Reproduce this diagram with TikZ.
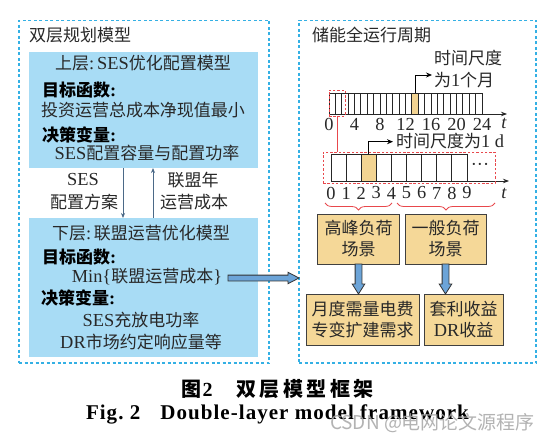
\documentclass[tikz,border=0pt]{standalone}
\usepackage{fontspec}
\setmainfont{Noto Sans CJK SC}
\newfontfamily\tm[Scale=1.08]{Liberation Serif}
\newfontfamily\tmcap[LetterSpace=5]{Liberation Serif}
\usetikzlibrary{arrows.meta,decorations.pathreplacing,calc}
\definecolor{frameblue}{RGB}{52,176,228}
\definecolor{boxblue}{RGB}{168,220,245}
\definecolor{tanfill}{RGB}{245,216,152}
\definecolor{cellyellow}{RGB}{243,212,146}
\definecolor{redd}{RGB}{232,72,76}
\definecolor{arrowblue}{RGB}{108,164,216}
\definecolor{txtc}{RGB}{40,40,40}
\definecolor{arrdark}{RGB}{75,105,135}
\tikzset{
  frame/.style={draw=frameblue, line width=1.2pt, dash pattern=on 3pt off 2.5pt, anchor=north west},
  bluebox/.style={fill=boxblue, anchor=north west},
  txt/.style={text=txtc},
  lbl/.style={text=black, font=\fontsize{17}{21}\selectfont\bfseries, anchor=west},
  cell/.style={draw=black!85, line width=0.8pt, fill=white},
  ycell/.style={draw=black!85, line width=0.8pt, fill=cellyellow, anchor=north west},
  axisline/.style={draw=black!85, line width=0.8pt, -{Stealth[length=6pt,width=4.5pt]}},
  reddash/.style={draw=redd, line width=0.9pt, dash pattern=on 2.5pt off 1.8pt, anchor=north west},
  redline/.style={draw=redd, line width=0.9pt},
  annot/.style={draw=black, line width=0.8pt, -{Stealth[length=6pt,width=5pt]}},
  thinarrow/.style={draw=arrdark, line width=0.8pt, -{Stealth[length=5pt,width=4pt]}},
  tanbox/.style={draw=black!75, line width=0.9pt, fill=tanfill, align=center, text=txtc},
  fat/.style={draw=black!80, line width=0.8pt, fill=arrowblue},
  bracep/.style={draw=redd, line width=0.8pt, decorate, decoration={brace, mirror, amplitude=7pt}}
}
\newcommand\fatR[2]{\draw[fat] ($(#1)+(0,-2.9)$) -- ($(#2)+(-11,-2.9)$) -- ($(#2)+(-11,-5.7)$) -- (#2) -- ($(#2)+(-11,5.7)$) -- ($(#2)+(-11,2.9)$) -- ($(#1)+(0,2.9)$) -- cycle;}
\newcommand\fatD[2]{\draw[fat] ($(#1)+(-3.4,0)$) -- ($(#2)+(-3.4,-10)$) -- ($(#2)+(-6.3,-10)$) -- (#2) -- ($(#2)+(6.3,-10)$) -- ($(#2)+(3.4,-10)$) -- ($(#1)+(3.4,0)$) -- cycle;}
\begin{document}
\begin{tikzpicture}[x=1pt,y=-1pt, every node/.style={inner sep=0pt, outer sep=0pt}, font=\fontsize{17}{21}\selectfont]
\useasboundingbox (0,0) rectangle (557,441);
\fill[white] (0,0) rectangle (557,441);
% frames
\node[frame, minimum width=250pt, minimum height=342.5pt] (lf) at (19,20.5) {};
\node[frame, minimum width=237pt, minimum height=342.5pt] (rf) at (299,20.5) {};
\node[txt, anchor=west] (lft) at (29,35) {双层规划模型};
\node[txt, anchor=west] (rft) at (312,35) {储能全运行周期};
% upper box
\node[bluebox, minimum width=229pt, minimum height=116pt] (ub) at (29,52) {};
\node[txt] (u1) at (143,63) {上层{\tm :}\,{\tm SES}优化配置模型};
\node[lbl] (u2) at (42,90) {目标函数{\tm\bfseries :}};
\node[txt] (u3) at (143,110) {投资运营总成本净现值最小};
\node[lbl] (u4) at (42,135) {决策变量{\tm\bfseries :}};
\node[txt] (u5) at (147,153) {{\tm SES}配置容量与配置功率};
% lower box
\node[bluebox, minimum width=229pt, minimum height=139pt] (lb) at (29,218) {};
\node[txt] (l1) at (141,233) {下层{\tm :}\,联盟运营优化模型};
\node[lbl] (l2) at (42,257) {目标函数{\tm\bfseries :}};
\node[txt] (l3) at (147,277) {{\tm Min\{}联盟运营成本{\tm \}}};
\node[lbl] (l4) at (41,298) {决策变量{\tm\bfseries :}};
\node[txt] (l5) at (141,320) {{\tm SES}充放电功率};
\node[txt] (l6) at (141,342) {{\tm DR}市场约定响应量等};
% arrows between boxes
\coordinate (xa) at (123,0);
\coordinate (xb) at (153,0);
\draw[thinarrow] (ub.south -| xa) -- (lb.north -| xa);
\draw[thinarrow] (lb.north -| xb) -- (ub.south -| xb);
\node[txt] (s1) at (83,180) {\tm SES};
\node[txt] (s2) at (84,202) {配置方案};
\node[txt] (s3) at (193,180) {联盟年};
\node[txt] (s4) at (194,202) {运营成本};
% big arrow
\coordinate (ha) at (228,278);
\coordinate (hb) at (rf.west |- ha);
\fatR{ha}{hb}
% top timeline
\foreach \i in {0,...,23} \draw[cell] (329+\i*6.375,93) rectangle ++(6.375,21);
\node[ycell, minimum width=6.375pt, minimum height=21pt] (y1) at (329+13*6.375,93) {};
\draw[axisline] (329,114) -- (507,114);
\foreach \k in {0,4,...,24} \node[txt] (ta\k) at (329+\k*6.375,124.5) {\tm \k};
\node[txt] (t1) at (504,123.5) {\tm\itshape t};
\node[reddash, minimum width=16pt, minimum height=26pt] (r1) at (329,90) {};
\coordinate (c1) at (432,75);
\draw[annot] (y1.north) |- (c1);
\node[txt, anchor=west] (a1) at (434,58) {时间尺度};
\node[txt, anchor=west] (a2) at (434,80) {为{\tm 1}个月};
% lower timeline
\foreach \i in {0,...,8} \draw[cell] (331+\i*15.111,154) rectangle ++(15.111,27);
\node[ycell, minimum width=15.111pt, minimum height=27pt] (y2) at (331+2*15.111,154) {};
\draw[axisline] (331,181) -- (509,181);
\foreach \k in {0,...,9} \node[txt] (tb\k) at (331+\k*15.111,193) {\tm \k};
\node[txt] (t2) at (504,193) {\tm\itshape t};
\node[txt] (dots) at (480,167) {\tm\textperiodcentered\textperiodcentered\textperiodcentered};
\node[reddash, minimum width=172pt, minimum height=31pt] (r2) at (323,152) {};
\draw[redline] (r1.south) -- (r2.north -| r1.south);
\coordinate (c2) at (393,141.7);
\draw[annot] (y2.north) |- (c2);
\node[txt, anchor=west] (a3) at (396,141.5) {时间尺度为{\tm 1 d}};
% braces
\coordinate (b1s) at (325,203); \coordinate (b1e) at (392,203);
\coordinate (b2s) at (397,203); \coordinate (b2e) at (495,203);
\draw[bracep] (b1s) -- (b1e);
\draw[bracep] (b2s) -- (b2e);
% scenario boxes
\node[tanbox, minimum width=81.5pt, minimum height=50pt] (hb1) at (358.5,239) {高峰负荷\\场景};
\node[tanbox, minimum width=81pt, minimum height=50pt] (gb1) at (445.5,239) {一般负荷\\场景};
\node[tanbox, minimum width=113pt, minimum height=51pt] (mb1) at (362.5,319.5) {月度需量电费\\专变扩建需求};
\node[tanbox, minimum width=79pt, minimum height=51pt] (ab1) at (463.5,319.5) {套利收益\\{\tm DR}收益};
\coordinate (d1) at (mb1.north -| hb1.south);
\coordinate (d2) at (ab1.north -| gb1.south);
\fatD{hb1.south}{d1}
\fatD{gb1.south}{d2}
% caption
\node[anchor=west, text=black, font=\fontsize{20}{24}\selectfont\bfseries] (cap1) at (181.5,389) {图\hspace{1pt}{\tmcap\bfseries 2}\hspace{24pt}双\hspace{3.5pt}层\hspace{3.5pt}模\hspace{3.5pt}型\hspace{3.5pt}框\hspace{3.5pt}架};
\node[anchor=west, text=black, font=\fontsize{21}{25}\selectfont] (cap2) at (86,414) {\tmcap\bfseries Fig.~2\hspace{20pt}Double-layer model framework};
% watermark
\node[anchor=west, text=black!35, font=\fontsize{19}{23}\selectfont, opacity=0.85] (wm) at (330,423) {CSDN @电网论文源程序};
\end{tikzpicture}
\end{document}
